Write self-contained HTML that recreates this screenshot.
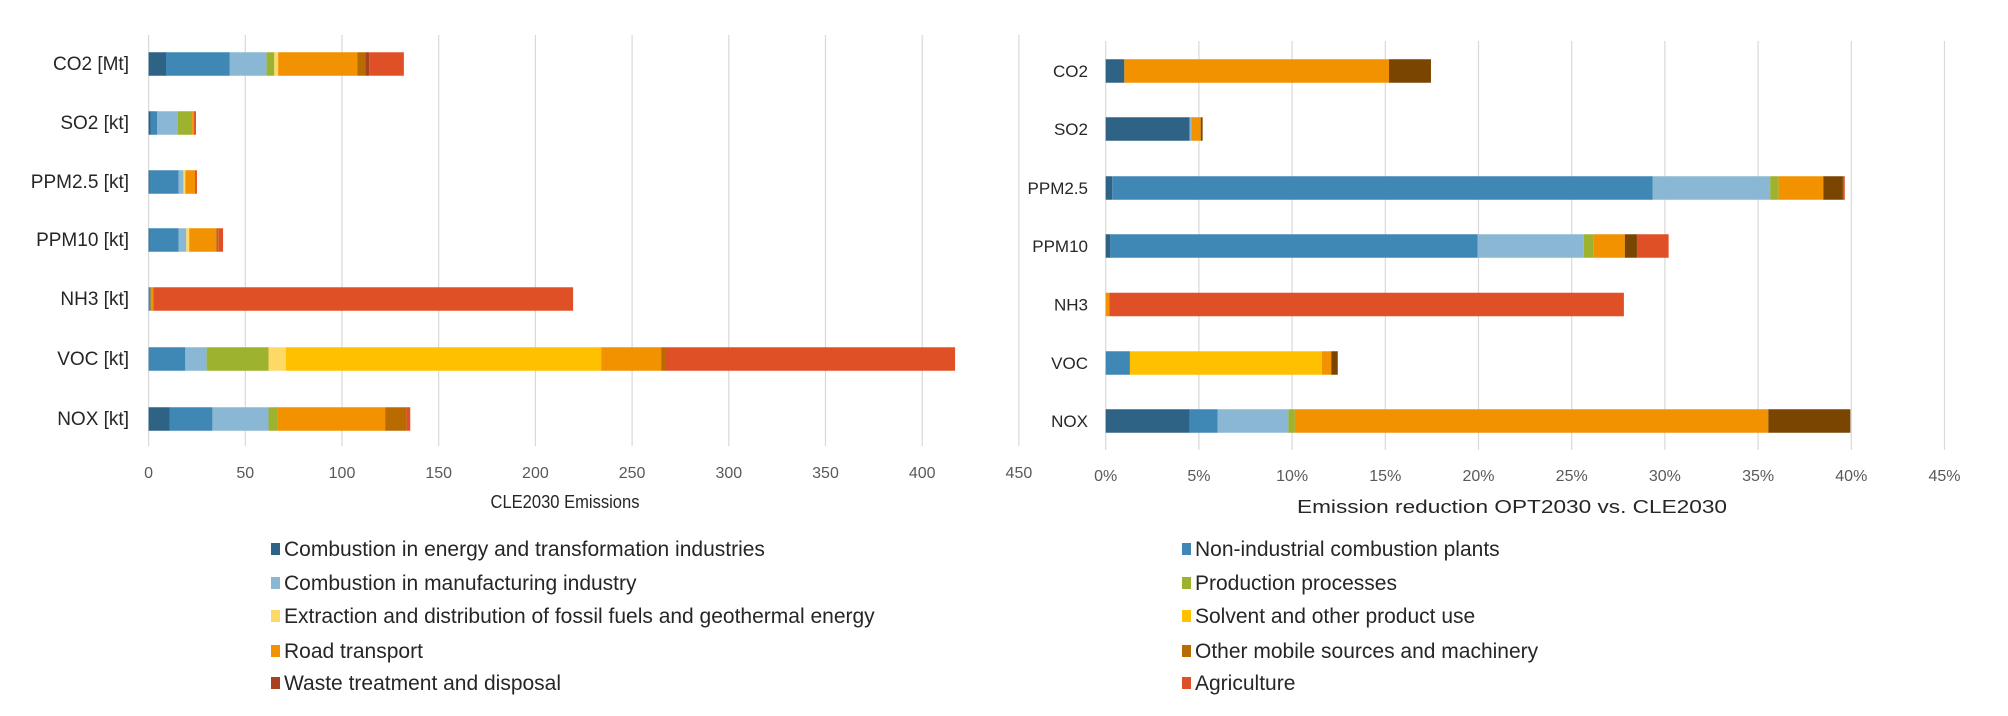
<!DOCTYPE html>
<html><head><meta charset="utf-8"><style>
html,body{margin:0;padding:0;background:#fff;}
svg{display:block;font-family:"Liberation Sans",sans-serif;}
</style></head><body>
<svg id="chart" width="2008" height="716" viewBox="0 0 2008 716" xmlns="http://www.w3.org/2000/svg">
<g id="left"></g>
<g id="right"></g>
<g id="legend"></g>
</svg>
<script>
const seriesNames = ["Combustion in energy and transformation industries","Non-industrial combustion plants","Combustion in manufacturing industry","Production processes","Extraction and distribution of fossil fuels and geothermal energy","Solvent and other product use","Road transport","Other mobile sources and machinery","Waste treatment and disposal","Agriculture"];
const leftCategories = ["CO2 [Mt]","SO2 [kt]","PPM2.5 [kt]","PPM10 [kt]","NH3 [kt]","VOC [kt]","NOX [kt]"];
const rightCategories = ["CO2","SO2","PPM2.5","PPM10","NH3","VOC","NOX"];
// left values per category, in series order
const leftCO2 = [9,33,19,4,2,0,41,4,2,18];
const leftSO2 = [1,3.5,10.5,7.5,0,0,1,0,0,1];
const leftPPM25 = [0.5,15,2.5,0,1,0,5,0.5,0,0.5];
const leftPPM10 = [0.5,15,4,0,1.5,0,14,1,0,2.5];
const leftNH3 = [0,1,0,0,0,0,1.5,0,0,217];
const leftVOC = [0,19,11,32,9,163,31,2,0,150];
const leftNOX = [11,22,29,4.6,0,0,55.7,11,0,2];
const rightCO2 = [1.0,0,0,0,0,0,14.2,2.25,0,0];
const rightSO2 = [4.5,0,0.1,0,0,0,0.5,0.1,0,0];
const rightPPM25 = [0.35,29.0,6.3,0.45,0,0,2.4,1.05,0,0.1];
const rightPPM10 = [0.25,19.7,5.7,0.5,0,0,1.7,0.65,0,1.7];
const rightNH3 = [0,0,0,0,0,0,0.2,0,0,27.6];
const rightVOC = [0,1.3,0,0,0,10.3,0.5,0.35,0,0];
const rightNOX = [4.5,1.5,3.8,0.35,0,0,25.4,4.4,0,0];
const leftTicks = [0,50,100,150,200,250,300,350,400,450];
const rightTicks = [0,5,10,15,20,25,30,35,40,45];

const leftValues=[leftCO2,leftSO2,leftPPM25,leftPPM10,leftNH3,leftVOC,leftNOX];
const rightValues=[rightCO2,rightSO2,rightPPM25,rightPPM10,rightNH3,rightVOC,rightNOX];
const colors=["#2e6385","#3f87b4","#8ab8d4","#9db22f","#ffd966","#ffc000","#f39200","#b86b00","#a9401f","#e05026"];
const rightColors=colors.slice(); rightColors[7]="#7a4500";
const NS="http://www.w3.org/2000/svg";
function mk(tag,attrs,parent){const e=document.createElementNS(NS,tag);for(const k in attrs)e.setAttribute(k,attrs[k]);parent.appendChild(e);return e;}

function drawChart(g,cfg){
  const x=v=>cfg.x0+v*cfg.scale;
  cfg.ticks.forEach((t,i)=>{
    const l=mk('line',{x1:x(t),x2:x(t),y1:cfg.gTop,y2:cfg.gBot,stroke:'#d9d9d9','stroke-width':1.2},g);
    
    
    const tx=mk('text',{x:x(t),y:cfg.tickY,'text-anchor':'middle','font-size':16,fill:'#595959'},g);
    tx.textContent=t+cfg.suffix;
    
    
  });
  cfg.cats.forEach((c,i)=>{
    const cy=cfg.rowY[i];
    const lb=mk('text',{x:cfg.labelX,y:cy+6,'text-anchor':'end','font-size':cfg.labelSize,fill:'#262626'},g);
    lb.textContent=c;
    
    
    let acc=0;
    cfg.values[i].forEach((v,s)=>{
      if(v<=0)return;
      const r=mk('rect',{x:x(acc),y:cy-11.75,width:v*cfg.scale,height:23.5,fill:cfg.colors[s]},g);
      
      
      acc+=v;
    });
  });
  const tt=mk('text',{x:cfg.titleX,y:cfg.titleY,'text-anchor':'middle','font-size':18,fill:'#262626',textLength:cfg.titleLen,lengthAdjust:'spacingAndGlyphs'},g);
  tt.textContent=cfg.title;
  
  
}
drawChart(document.getElementById('left'),{x0:148.6,scale:1.934,ticks:leftTicks,suffix:'',gTop:35,gBot:446,tickY:478,cats:leftCategories,values:leftValues,colors:colors,rowY:[64,123,182,240,299,359,419],labelX:129,labelSize:19,title:'CLE2030 Emissions',titleX:565,titleY:508,titleLen:149});
drawChart(document.getElementById('right'),{x0:1105.7,scale:18.64,ticks:rightTicks,suffix:'%',gTop:41,gBot:450,tickY:481,cats:rightCategories,values:rightValues,colors:rightColors,rowY:[71,129,188,246,304.5,363,421],labelX:1088,labelSize:17,title:'Emission reduction OPT2030 vs. CLE2030',titleX:1512,titleY:513,titleLen:430});

const lg=document.getElementById('legend');
const legX=[271,1182], legY=[549,583,616,651,683];
seriesNames.forEach((n,i)=>{
  const cx=legX[i%2], cy=legY[Math.floor(i/2)];
  const e=mk('g',{},lg);
  
  
  mk('rect',{x:cx,y:cy-6,width:9,height:12,fill:colors[i]},e);
  const t=mk('text',{x:cx+13,y:cy+7,'font-size':21,fill:'#262626'},e);
  t.textContent=n;
});
</script>
</body></html>
